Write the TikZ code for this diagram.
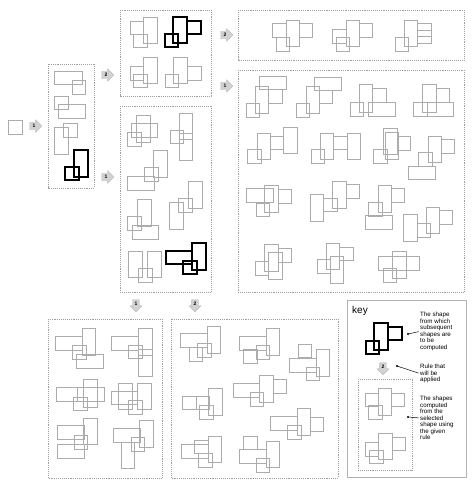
\documentclass[tikz,border=0pt]{standalone}
\usepackage{fontspec}
\setmainfont{Liberation Sans}
\usetikzlibrary{shapes.arrows}

\newcommand{\tiles}[2][part]{%
    \foreach \x/\y/\w/\h in {#2} \draw[#1] (\x,\y) rectangle ++(\w,\h);}

\tikzset{
    part/.style={draw=gray!65, line width=0.55pt},
    pick/.style={draw=black, line width=1.1pt},
    frame/.style={draw=gray!75, line width=0.9pt, densely dotted},
    rulearrow/.style={single arrow, draw=gray!55, fill=gray!35, inner sep=1.8pt,
        minimum height=12pt, minimum width=12pt, single arrow head extend=2.5pt,
        font=\fontsize{5}{5}\selectfont\bfseries},
    ruledown/.style={rulearrow, shape border rotate=270},
    note/.style={anchor=north west, align=left, inner sep=0pt,
        font=\fontsize{6.2}{6.5}\selectfont},
}

\begin{document}
\begin{tikzpicture}[x=1pt, y=-1pt]
    \useasboundingbox (0,0) rectangle (474,486);

    \draw[frame] (48,64) rectangle (94,188);
    \draw[frame] (120,10) rectangle (211,96);
    \draw[frame] (120,106) rectangle (211,292);
    \draw[frame] (238,10) rectangle (464,60);
    \draw[frame] (238,70) rectangle (464,292);
    \draw[frame] (48,319) rectangle (162,478);
    \draw[frame] (171,319) rectangle (338,478);

    \node[rulearrow] (r0) at (34,126) {1};
    \node[rulearrow] (a2) at (106,75) {2};
    \node[rulearrow] (a1) at (106,177) {1};
    \node[rulearrow] (b2) at (225,35) {2};
    \node[rulearrow] (b1) at (225,86) {1};
    \node[ruledown] (c1) at (136,304) {1};
    \node[ruledown] (c2) at (195,304) {2};

    % start
    \tiles{8/120/14/14}

    % rule 1 on the square
    \tiles{54/71/28/13, 72/80/13/14}
    \tiles{54/96/14/13, 58/104/27/14}
    \tiles{63/123/14/14, 54/127/14/27}
    \tiles[pick]{74/150/14/27, 65/167/14/13}

    % rule 2 on the picked shape
    \tiles{130/21/13/13, 143/17/14/26, 133/34/14/13}
    \tiles[pick]{173/17/14/26, 187/21/14/13, 165/34/13/13}
    \tiles{130/66/13/14, 143/57/14/26, 133/74/14/13}
    \tiles{173/57/14/26, 187/66/14/14, 165/74/13/13}

    % rule 1 on the picked shape
    \tiles{136/115/14/27, 131/123/26/14, 127/132/14/14}
    \tiles{179/113/13/26, 179/133/13/27, 170/130/13/13}
    \tiles{153/150/14/27, 144/167/14/14, 127/176/27/14}
    \tiles{188/181/14/27, 178/198/14/14, 169/202/14/27}
    \tiles{137/199/14/27, 127/216/14/14, 132/225/26/14}
    \tiles{128/251/14/26, 147/251/14/26, 138/268/14/14}
    \tiles[pick]{166/251/26/13, 192/243/14/27, 183/261/14/13}

    % rule 2 from the top row
    \tiles{272/23/14/14, 286/20/13/26, 299/23/13/14, 276/37/13/14}
    \tiles{332/29/14/14, 346/20/13/26, 359/23/13/14, 336/37/13/14}
    \tiles{404/20/13/26, 417/23/14/13, 417/30/14/13, 395/37/13/14}

    % rule 1 from the top row
    \tiles{259/76/27/13, 268/89/14/14, 255/86/13/27, 246/103/13/14}
    \tiles{314/77/27/13, 306/86/13/27, 319/90/13/13, 296/103/13/14}
    \tiles{359/84/13/28, 372/88/14/14, 350/102/13/14, 368/102/27/14}
    \tiles{422/84/14/28, 436/88/13/14, 413/102/14/14, 427/102/26/14}
    \tiles{257/133/13/26, 283/127/14/26, 270/136/13/13, 247/149/14/14}
    \tiles{320/133/13/26, 347/133/13/26, 333/136/14/13, 311/149/13/14}
    \tiles{383/128/14/26, 385/132/13/27, 397/136/13/14, 373/149/14/14}
    \tiles{428/136/13/26, 441/139/13/14, 418/152/14/14, 408/166/27/13}
    \tiles{246/188/27/14, 264/185/14/27, 278/189/13/14, 256/203/13/13}
    \tiles{310/194/13/27, 323/198/14/13, 332/181/14/27, 346/184/13/14}
    \tiles{378/185/13/27, 391/188/13/14, 368/202/14/14, 365/215/27/14}
    \tiles{403/214/14/27, 417/223/13/14, 426/207/13/26, 439/210/13/14}
    \tiles{264/244/14/27, 268/252/14/27, 278/248/13/14, 255/261/13/14}
    \tiles{326/243/13/26, 330/256/13/27, 339/247/14/13, 317/259/13/14}
    \tiles{378/256/28/14, 392/251/14/27, 406/256/13/14, 383/268/13/14}

    % rule 1 from the left column
    \tiles{55/336/27/14, 82/328/13/27, 72/345/14/14, 76/354/27/14}
    \tiles{111/336/27/14, 138/328/14/27, 138/349/14/27, 128/345/14/13}
    \tiles{56/387/27/14, 83/379/14/28, 77/387/27/14, 73/397/14/13}
    \tiles{118/383/14/26, 137/383/14/26, 111/391/26/13, 128/400/14/14}
    \tiles{57/425/27/14, 83/418/14/26, 74/435/13/14, 57/444/27/14}
    \tiles{113/428/27/14, 139/420/14/27, 131/437/13/14, 121/442/13/26}

    % rule 2 from the left column
    \tiles{180/333/27/14, 207/326/13/27, 197/343/14/14, 189/347/13/14}
    \tiles{239/336/27/14, 266/328/13/27, 256/345/13/14, 243/349/14/14}
    \tiles{298/344/13/13, 316/349/13/27, 289/358/27/14, 306/367/13/13}
    \tiles{233/383/26/14, 259/375/14/27, 273/379/13/14, 250/392/13/14}
    \tiles{182/396/14/13, 196/396/13/13, 208/388/14/27, 199/405/14/14}
    \tiles{270/416/27/14, 297/408/13/27, 310/417/13/14, 287/425/14/14}
    \tiles{181/444/27/14, 208/436/13/26, 194/440/14/13, 198/453/14/14}
    \tiles{243/436/14/13, 239/449/27/14, 266/441/13/26, 256/458/13/14}

    % key
    \draw[draw=gray!60, line width=1pt] (347,300) rectangle (466,477);
    \node[anchor=north west, inner sep=0pt, font=\fontsize{10}{10}\selectfont] (key) at (352,306) {key};
    \tiles[pick]{374/323/14/27, 388/327/14/13, 366/341/13/13}
    \node[ruledown] (k2) at (383,367) {2};
    \draw[frame] (358,379) rectangle (412,470);
    \tiles{365/393/13/13, 378/388/13/27, 391/393/13/13, 368/405/14/14}
    \tiles{365/442/13/14, 378/433/14/26, 392/437/13/13, 369/450/14/13}

    \node[note] (t1) at (420,312) {The shape\\from which\\subsequent\\shapes are\\to be\\computed};
    \node[note] (t2) at (420,364) {Rule that\\will be\\applied};
    \node[note] (t3) at (420,396) {The shapes\\computed\\from the\\selected\\shape using\\the given\\rule};

    \coordinate (d1) at (408,334);
    \coordinate (d2) at (397,366);
    \coordinate (d3) at (408,417);
    \fill (d1) circle (1.1pt);
    \fill (d2) circle (1.1pt);
    \fill (d3) circle (1.1pt);
    \draw[line width=0.5pt, shorten >=1.5pt] (d1) -- (t1.west);
    \draw[line width=0.5pt, shorten >=1.5pt] (d2) -- (t2.west);
    \draw[line width=0.5pt, shorten >=1.5pt] (d3) -- (t3.west);
\end{tikzpicture}
\end{document}
